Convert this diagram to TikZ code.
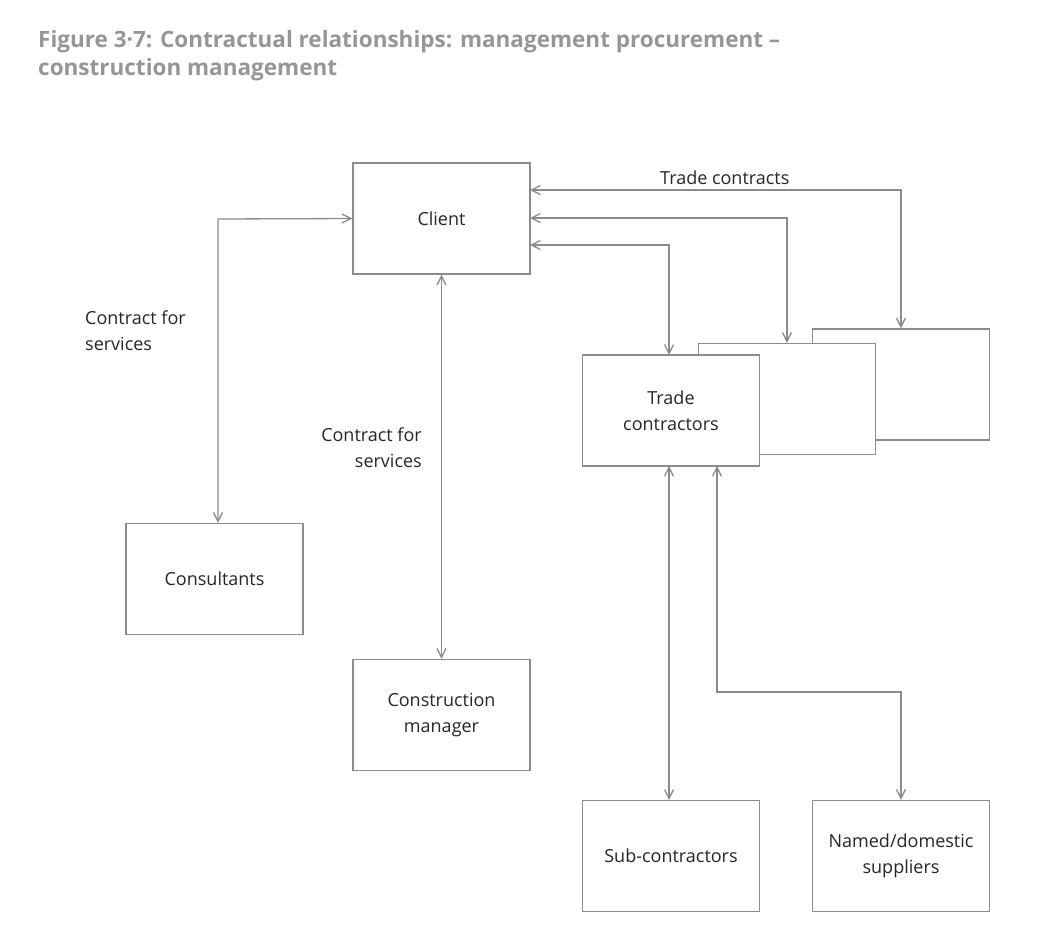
\documentclass[tikz,border=0pt]{standalone}
\usepackage{fontspec}
\setmainfont{Open Sans}
\usetikzlibrary{arrows.meta}
\definecolor{ln}{RGB}{140,140,140}
\definecolor{tt}{RGB}{150,150,150}
\begin{document}
\begin{tikzpicture}[x=1pt,y=-1pt,
  box/.style={draw=ln,line width=1.3pt,fill=white,minimum width=177pt,minimum height=111pt,align=center,font=\fontsize{18}{26}\selectfont,text=black!85,inner sep=0},
  con/.style={draw=ln,line width=1.3pt,{Straight Barb[length=9pt,width=9pt]}-{Straight Barb[length=9pt,width=9pt]}},
  lab/.style={font=\fontsize{18}{26}\selectfont,text=black!85,inner sep=0}]
\useasboundingbox (0,0) rectangle (1049,935);
\node[anchor=north west,align=left,text=tt,inner sep=0,font=\bfseries\fontsize{22.5}{28}\selectfont] (title) at (38,30) {Figure 3·7: Contractual relationships: management procurement –\\construction management};
\node[box] (client) at (441.5,218.5) {Client};
\node[box] (cons) at (214.5,579) {Consultants};
\node[box] (cm) at (441.5,715) {Construction\\manager};
\node[box] (t3) at (901,384.5) {};
\node[box] (t2) at (787,399) {};
\node[box] (tc) at (671,410.5) {Trade\\contractors};
\node[box] (sub) at (671,856) {Sub-contractors};
\node[box] (nd) at (901,856) {Named/domestic\\suppliers};
\coordinate (c1) at (218,219);
\draw[con] (client.west) -- (c1) -- (cons.north -| c1);
\draw[con] (client.south) -- (cm.north);
\draw[con] (530,190) -| (t3.north);
\draw[con] (530,218) -| (t2.north);
\draw[con] (530,245) -| (669,355);
\coordinate (k) at (717,692);
\draw[con] (669,466) -- (669,800);
\draw[con] (717,466) -- (k) -| (nd.north);
\node[lab,anchor=west] (l1) at (660,178) {Trade contracts};
\node[lab,anchor=north west,align=left] (l2) at (85,311) {Contract for\\services};
\node[lab,anchor=north east,align=right] (l3) at (422,428) {Contract for\\services};
\end{tikzpicture}
\end{document}
